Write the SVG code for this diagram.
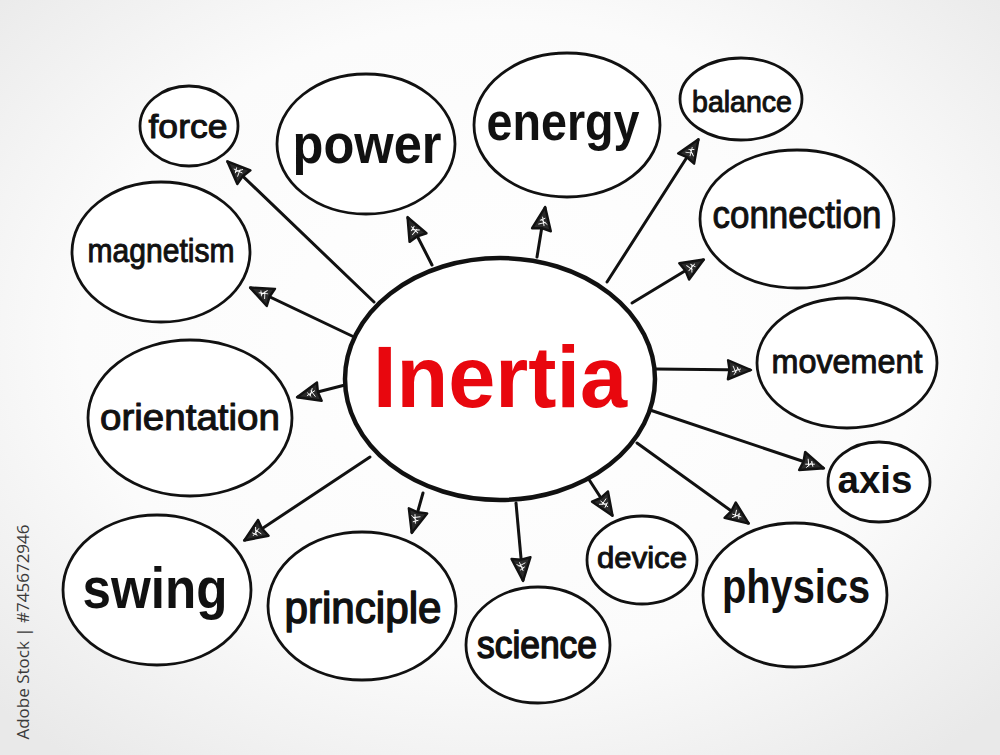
<svg xmlns="http://www.w3.org/2000/svg" width="1000" height="755" viewBox="0 0 1000 755">
  <defs>
    <radialGradient id="bg" cx="50%" cy="45%" r="70%">
      <stop offset="0" stop-color="#ffffff"/>
      <stop offset="0.6" stop-color="#fbfbfb"/>
      <stop offset="1" stop-color="#e9e9e9"/>
    </radialGradient>
    <marker id="ah" markerUnits="userSpaceOnUse" markerWidth="30" markerHeight="26" viewBox="-26 -13 30 26" refX="0" refY="0" orient="auto">
      <path d="M1,0 L-22,-9.5 L-20.5,0 L-22,9.5 Z" fill="#2a2a2a" stroke="#111" stroke-width="2.4" stroke-linejoin="round"/>
      <path d="M-17,-4 L-14,3 M-13,-3 L-10,2 M-18,2 L-9,-1 M-16,5 L-12,-2" stroke="#ffffff" stroke-width="0.9" fill="none"/>
    </marker>
    <style>
      .node ellipse { fill: #ffffff; stroke: #111; stroke-width: 2.8; }
      .lbl { font-family: "Liberation Sans", Arial, sans-serif; fill: #111; text-anchor: middle; stroke: #111; stroke-width: 1; stroke-linejoin: round; }
      .m { stroke-width: 1.5; }
      .b { font-weight: bold; stroke-width: 0; }
      .conn line { stroke: #111; stroke-width: 3; stroke-linecap: round; marker-end: url(#ah); }
    </style>
  </defs>

  <rect x="0" y="0" width="1000" height="755" fill="url(#bg)"/>

  <text transform="translate(29,632) rotate(-90)" font-family="'Open Sans', 'Liberation Sans', sans-serif" font-size="17" fill="#3a3a3a" text-anchor="middle">Adobe Stock | #745672946</text>

  <g id="connectors" class="conn">
    <line x1="374" y1="302" x2="228" y2="162"/>
    <line x1="432" y1="265" x2="408" y2="218"/>
    <line x1="537" y1="257" x2="545" y2="208"/>
    <line x1="607" y1="282" x2="698" y2="140"/>
    <line x1="632" y1="303" x2="703" y2="260"/>
    <line x1="655" y1="369" x2="750" y2="370"/>
    <line x1="650" y1="410" x2="823" y2="468"/>
    <line x1="637" y1="443" x2="748" y2="523"/>
    <line x1="588" y1="478" x2="612" y2="515"/>
    <line x1="516" y1="503" x2="523" y2="580"/>
    <line x1="423" y1="493" x2="412" y2="532"/>
    <line x1="370" y1="457" x2="245" y2="540"/>
    <line x1="345" y1="385" x2="298" y2="397"/>
    <line x1="352" y1="336" x2="251" y2="288"/>
  </g>

  <g id="inertia" class="node">
    <ellipse cx="500" cy="379" rx="155" ry="121" style="stroke-width:4.5"/>
    <text x="500" y="407" font-family="'Liberation Sans', Arial, sans-serif" font-weight="bold" font-size="88" fill="#e8070e" text-anchor="middle" textLength="254" lengthAdjust="spacingAndGlyphs">Inertia</text>
  </g>

  <g id="force" class="node">
    <ellipse cx="189" cy="126" rx="49" ry="40"/>
    <text class="lbl" x="188" y="138" font-size="34" textLength="79" lengthAdjust="spacingAndGlyphs">force</text>
  </g>
  <g id="power" class="node">
    <ellipse cx="366" cy="144" rx="89" ry="70"/>
    <text class="lbl b" x="367" y="163" font-size="56" textLength="149" lengthAdjust="spacingAndGlyphs">power</text>
  </g>
  <g id="energy" class="node">
    <ellipse cx="567" cy="125" rx="93" ry="72"/>
    <text class="lbl b" x="563" y="140" font-size="54" textLength="153" lengthAdjust="spacingAndGlyphs">energy</text>
  </g>
  <g id="balance" class="node">
    <ellipse cx="741" cy="99" rx="61" ry="41"/>
    <text class="lbl" x="742" y="112" font-size="30" textLength="100" lengthAdjust="spacingAndGlyphs">balance</text>
  </g>
  <g id="connection" class="node">
    <ellipse cx="797" cy="219" rx="97" ry="69"/>
    <text class="lbl" x="797" y="228" font-size="38" textLength="169" lengthAdjust="spacingAndGlyphs">connection</text>
  </g>
  <g id="movement" class="node">
    <ellipse cx="847" cy="363" rx="90" ry="65"/>
    <text class="lbl" x="847" y="373" font-size="34" textLength="151" lengthAdjust="spacingAndGlyphs">movement</text>
  </g>
  <g id="axis" class="node">
    <ellipse cx="879" cy="482" rx="51" ry="40"/>
    <text class="lbl b" x="875" y="493" font-size="38" textLength="75" lengthAdjust="spacingAndGlyphs">axis</text>
  </g>
  <g id="physics" class="node">
    <ellipse cx="795" cy="595" rx="92" ry="72"/>
    <text class="lbl b" x="796" y="603" font-size="48" textLength="148" lengthAdjust="spacingAndGlyphs">physics</text>
  </g>
  <g id="device" class="node">
    <ellipse cx="642" cy="560" rx="55" ry="44"/>
    <text class="lbl" x="642" y="568" font-size="30" textLength="90" lengthAdjust="spacingAndGlyphs">device</text>
  </g>
  <g id="science" class="node">
    <ellipse cx="538" cy="645" rx="72" ry="58"/>
    <text class="lbl m" x="537" y="658" font-size="38" textLength="120" lengthAdjust="spacingAndGlyphs">science</text>
  </g>
  <g id="principle" class="node">
    <ellipse cx="362" cy="606" rx="94" ry="74"/>
    <text class="lbl m" x="363" y="623" font-size="44" textLength="157" lengthAdjust="spacingAndGlyphs">principle</text>
  </g>
  <g id="swing" class="node">
    <ellipse cx="157" cy="590" rx="94" ry="75"/>
    <text class="lbl b" x="155" y="608" font-size="58" textLength="145" lengthAdjust="spacingAndGlyphs">swing</text>
  </g>
  <g id="orientation" class="node">
    <ellipse cx="190" cy="418" rx="102" ry="78"/>
    <text class="lbl" x="190" y="430" font-size="36" textLength="180" lengthAdjust="spacingAndGlyphs">orientation</text>
  </g>
  <g id="magnetism" class="node">
    <ellipse cx="161" cy="252" rx="89" ry="70"/>
    <text class="lbl" x="161" y="262" font-size="34" textLength="147" lengthAdjust="spacingAndGlyphs">magnetism</text>
  </g>
</svg>
